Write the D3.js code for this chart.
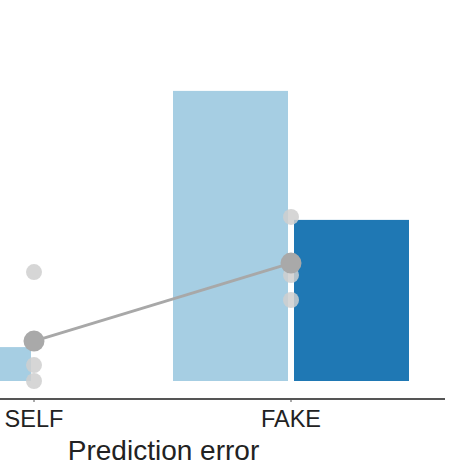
<!DOCTYPE html>
<html>
<head>
<meta charset="utf-8">
<script src="https://cdn.jsdelivr.net/npm/d3@7"></script>
<style>
  body { margin: 0; background: #fff; }
  svg { display: block; font-family: "Liberation Sans", Arial, sans-serif; }
</style>
</head>
<body>
<script>
// data (arbitrary units, same scale for bars and dots)
const categories = ["SELF", "FAKE"];
const conditions = ["light", "dark"];
const barLight = [0.113, 0.967];
const barDark = [0, 0.537];
const dotsSelf = [0.363, 0.053, 0.0];
const dotsFake = [0.547, 0.353, 0.27];
const means = [0.133, 0.393];

const width = 474, height = 474;
const svg = d3.select("body").append("svg")
    .attr("width", width).attr("height", height);

// scales
const x = d3.scaleBand()
    .domain(categories)
    .range([34 - 128.5, 291 + 128.5]);

const xSub = d3.scaleBand()
    .domain(conditions)
    .range([10.5, x.bandwidth() - 10.5])
    .paddingInner(6 / 121);

const y = d3.scaleLinear()
    .domain([0, 1])
    .range([381, 81]);

const colors = { light: "#a6cee3", dark: "#1f78b4" };

// bars
const barData = [];
categories.forEach((c, i) => {
    barData.push({ cat: c, cond: "light", v: barLight[i] });
    barData.push({ cat: c, cond: "dark", v: barDark[i] });
});

svg.append("g").selectAll("rect")
    .data(barData.filter(d => d.v > 0))
    .enter()
    .append("rect")
    .attr("x", d => x(d.cat) + xSub(d.cond))
    .attr("width", xSub.bandwidth())
    .attr("y", d => y(d.v))
    .attr("height", d => y(0) - y(d.v))
    .attr("fill", d => colors[d.cond]);

const center = c => x(c) + x.bandwidth() / 2;

// individual points
const pts = [];
dotsSelf.forEach(v => pts.push({ cat: "SELF", v }));
dotsFake.forEach(v => pts.push({ cat: "FAKE", v }));

svg.append("g").selectAll("circle")
    .data(pts)
    .enter()
    .append("circle")
    .attr("cx", d => center(d.cat))
    .attr("cy", d => y(d.v))
    .attr("r", 8)
    .attr("fill", "#cfcfcf")
    .attr("fill-opacity", 0.85);

// mean line + points
const meanData = categories.map((c, i) => ({ cat: c, v: means[i] }));
const line = d3.line()
    .x(d => center(d.cat))
    .y(d => y(d.v));

svg.append("path")
    .datum(meanData)
    .attr("d", line)
    .attr("fill", "none")
    .attr("stroke", "#a8a8a8")
    .attr("stroke-width", 3);

svg.append("g").selectAll("circle")
    .data(meanData)
    .enter()
    .append("circle")
    .attr("cx", d => center(d.cat))
    .attr("cy", d => y(d.v))
    .attr("r", 10.5)
    .attr("fill", "#a9a9a9");

// x axis
const xAxis = d3.axisBottom(x).tickSize(3).tickSizeOuter(0).tickPadding(8);
const gx = svg.append("g")
    .attr("transform", "translate(0,399)")
    .call(xAxis);
gx.select(".domain")
    .attr("d", "M0,0H445")
    .attr("stroke", "#555")
    .attr("stroke-width", 2);
gx.selectAll(".tick line").attr("stroke", "#555");
gx.selectAll(".tick text")
    .attr("font-size", "23.5px")
    .attr("fill", "#222");

svg.append("text")
    .attr("x", 163.5)
    .attr("y", 460)
    .attr("text-anchor", "middle")
    .attr("font-size", "28px")
    .attr("fill", "#222")
    .text("Prediction error");
</script>
</body>
</html>
